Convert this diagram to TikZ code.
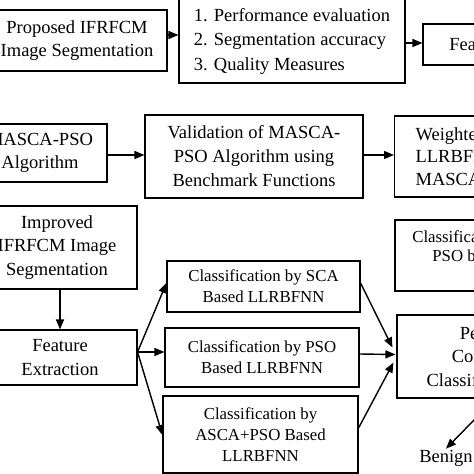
\documentclass[tikz,border=0pt]{standalone}
\usepackage{fontspec}
\setmainfont{Liberation Serif}
\usetikzlibrary{arrows.meta,calc}
\begin{document}
\begin{tikzpicture}[x=1pt,y=-1pt,
  box/.style={draw=black, line width=1.1pt, inner sep=0pt, align=center,
    font=\fontsize{18.5}{23.5}\selectfont},
  cbox/.style={box, font=\fontsize{16.8}{20.8}\selectfont},
  arr/.style={line width=1.4pt, -{Triangle[length=10pt,width=8pt]}},
]
\useasboundingbox (0,0) rectangle (474,474);
\clip (0,0) rectangle (474,474);
% row 1
\node[box, minimum width=180pt, minimum height=61pt] (p1) at (77,40.5) {Proposed IFRFCM\\Image Segmentation};
\node[box, align=left, minimum width=226pt, minimum height=84pt, font=\fontsize{18.5}{24.5}\selectfont] (eval) at (292,41)
  {1. Performance evaluation\\2. Segmentation accuracy\\3. Quality Measures};
\node[box, minimum width=190pt, minimum height=41pt] (fea) at (518,44.5) {Feature Extraction};
% row 2
\node[box, minimum width=134pt, minimum height=58pt] (masca) at (40,153) {MASCA-PSO\\Algorithm};
\node[box, minimum width=218pt, minimum height=83pt, font=\fontsize{18.5}{24}\selectfont] (valid) at (254,156.5)
  {Validation of MASCA-\\PSO Algorithm using\\Benchmark Functions};
\node[box, align=left, anchor=west, inner xsep=21pt, minimum height=81pt, font=\fontsize{18.5}{22.5}\selectfont] (weight) at (394,156.5)
  {Weighted\\LLRBFNN\\MASCA-PSO};
% row 3
\node[box, minimum width=160pt, minimum height=83pt] (imp) at (57,247.5) {Improved\\IFRFCM Image\\Segmentation};
\node[box, minimum width=154pt, minimum height=55pt] (feat) at (60,357.5) {Feature\\Extraction};
\node[cbox, minimum width=193pt, minimum height=51pt] (sca) at (263.5,286.5) {Classification by SCA\\Based LLRBFNN};
\node[cbox, minimum width=194pt, minimum height=59pt] (pso) at (262,357.5) {Classification by PSO\\Based LLRBFNN};
\node[cbox, minimum width=195pt, minimum height=77pt] (asca) at (260.5,434.5) {Classification by\\ASCA+PSO Based\\LLRBFNN};
\node[cbox, minimum width=148pt, minimum height=71pt, font=\fontsize{16.8}{19}\selectfont] (cpb) at (469,255.5) {Classification by\\PSO based\\\mbox{}};
\node[box, minimum width=220pt, minimum height=83pt] (perf) at (507,356.5) {Performance\\Comparison of\\Classification Results};
\node[font=\fontsize{18.5}{22}\selectfont, inner sep=1pt] (benign) at (446,458) {Benign};
% arrows
\draw[arr] (p1.east |- 0,35) -- (eval.west |- 0,35);
\draw[arr] (eval.east |- 0,43) -- (fea.west |- 0,43);
\draw[arr] (masca.east |- 0,155) -- (valid.west |- 0,155);
\draw[arr] (valid.east |- 0,155) -- (weight.west |- 0,155);
\draw[arr] (feat.north |- imp.south) -- (feat.north);
\coordinate (fo) at (feat.east |- 0,352);
\draw[arr] (fo) -- (sca.west |- 0,283);
\draw[arr] (fo) -- (pso.west |- 0,352);
\draw[arr] (fo) -- (asca.west |- 0,435);
\draw[arr] (sca.east |- 0,283) -- ($(perf.west)+(-4,-9)$);
\draw[arr] (pso.east |- 0,354) -- ($(perf.west)+(-1,-2)$);
\draw[arr] (asca.east |- 0,428) -- ($(perf.west)+(-3,6)$);
\draw[arr] ($(perf.south)+(-12,0)$) -- (benign.north);
\end{tikzpicture}
\end{document}
